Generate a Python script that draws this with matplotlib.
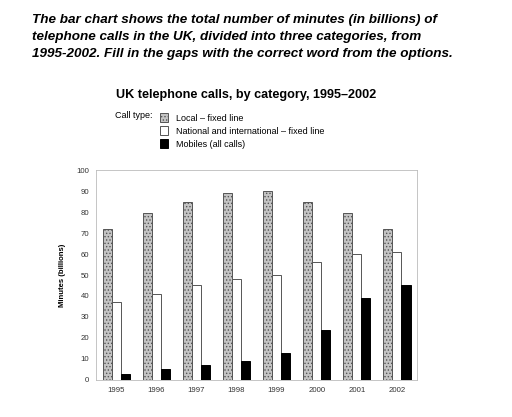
import matplotlib.pyplot as plt
import numpy as np

plt.rcParams['font.family'] = ['Liberation Sans', 'DejaVu Sans']
plt.rcParams['hatch.color'] = '#909090'
plt.rcParams['hatch.linewidth'] = 0.6

years = ['1995', '1996', '1997', '1998', '1999', '2000', '2001', '2002']
local = [72, 79.5, 85, 89, 90, 85, 79.5, 72]
national = [37, 41, 45, 48, 50, 56, 60, 61]
mobiles = [3, 5, 7, 9, 13, 24, 39, 45]

fig = plt.figure(figsize=(5.12, 4.17), dpi=100)

# question text at the top
fig.text(0.062, 0.966, "The bar chart shows the total number of minutes (in billions) of\n"
         "telephone calls in the UK, divided into three categories, from\n"
         "1995-2002. Fill in the gaps with the correct word from the options.",
         fontsize=9.7, fontweight='bold', fontstyle='italic', va='top', ha='left',
         linespacing=1.52)

fig.text(0.227, 0.772, "UK telephone calls, by category, 1995\u20132002",
         fontsize=9.1, fontweight='bold', va='center', ha='left')

ax = fig.add_axes([0.1875, 0.089, 0.627, 0.503])
x = np.arange(len(years))
w = 0.225
ax.bar(x - w, local, w, color='#c4c4c4', edgecolor='#555555', linewidth=0.7,
       hatch='.....', label='Local \u2013 fixed line')
ax.bar(x, national, w, color='white', edgecolor='#555555', linewidth=0.7,
       label='National and international \u2013 fixed line')
ax.bar(x + w, mobiles, w, color='black', edgecolor='black', linewidth=0.7,
       label='Mobiles (all calls)')

ax.set_xlim(-0.5, 7.5)
ax.set_ylim(0, 100)
ax.set_yticks(range(0, 101, 10))
ax.set_xticks(x)
ax.set_xticklabels(years)
ax.tick_params(axis='both', length=0, labelsize=5.6, colors='#333333', pad=5)
for s in ax.spines.values():
    s.set_color('#bbbbbb')
    s.set_linewidth(0.6)
ax.set_ylabel('Minutes (billions)', fontsize=5.6, fontweight='bold', labelpad=7)

# legend placed like the printed key
fig.text(0.225, 0.724, 'Call type:', fontsize=6.5, va='center', ha='left')
handles, labels = ax.get_legend_handles_labels()
fig.legend(handles, labels, loc='upper left', bbox_to_anchor=(0.296, 0.748),
           frameon=False, fontsize=6.5, handlelength=0.9, handleheight=1.1,
           labelspacing=0.4, handletextpad=0.9)

plt.savefig('out.png', dpi=100)
